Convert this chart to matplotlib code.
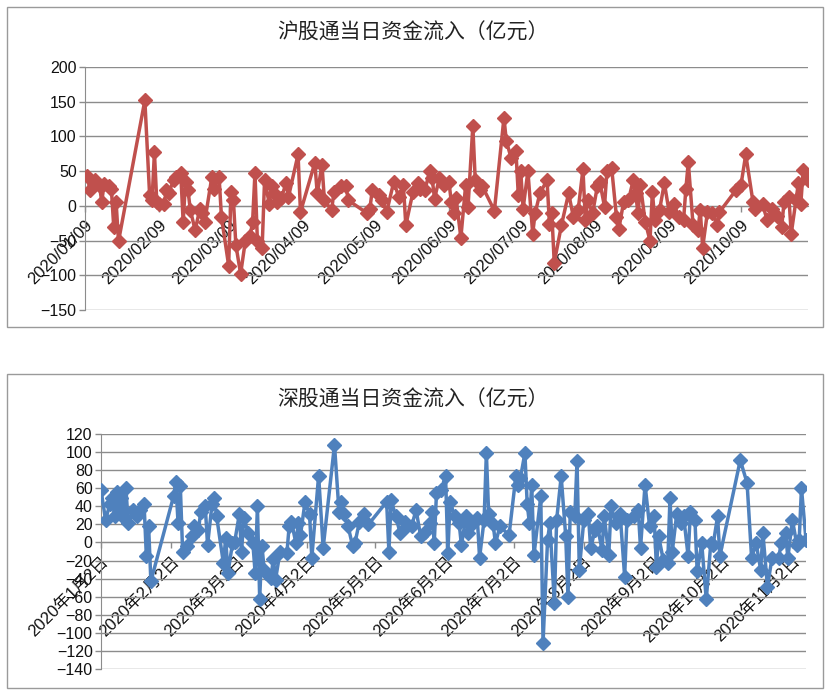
import matplotlib
matplotlib.use("Agg")
import matplotlib.pyplot as plt
from matplotlib.patches import Rectangle
import pandas as pd

# ---------------- data (day of year 2020, value in 亿元) ----------------
top_title = "沪股通当日资金流入（亿元）"
bot_title = "深股通当日资金流入（亿元）"

top_doy = [10, 11, 13, 15, 16, 17, 19, 20, 21, 22, 23, 34, 36, 37, 38, 39, 40, 42, 43, 44,
           46, 47, 49, 50, 51, 52, 53, 55, 57, 58, 59, 62, 63, 65, 66, 69, 70, 71, 72, 74,
           76, 78, 79, 80, 81, 83, 84, 86, 87, 88, 89, 91, 93, 94, 98, 99, 105, 106, 108, 109,
           112, 113, 116, 118, 119, 127, 128, 129, 132, 133, 135, 138, 140, 142, 143, 146, 148, 149, 151, 153,
           154, 155, 157, 159, 161, 162, 163, 164, 166, 168, 169, 171, 172, 174, 175, 180, 184, 185, 187, 189,
           190, 191, 192, 194, 196, 197, 199, 202, 203, 204, 205, 208, 211, 213, 215, 217, 218, 219, 221, 223,
           224, 226, 227, 229, 231, 232, 234, 236, 238, 239, 240, 241, 243, 245, 246, 247, 249, 251, 253, 255,
           257, 259, 260, 261, 263, 265, 266, 267, 269, 271, 273, 274, 281, 283, 285, 288, 289, 292, 294, 296,
           298, 300, 301, 303, 304, 306, 307, 308, 309, 311]
top_val = [43, 23, 37, 30, 6, 32, 28, 25, -30, 5, -51, 152, 15, 8, 77, 5, 2, 2, 23, 19,
           37, 42, 47, -23, 35, 23, -6, -35, -4, -11, -23, 42, 25, 42, -16, -86, 20, 8, -56, -98,
           -50, -43, -23, 48, -50, -60, 37, 3, 28, 18, 6, 11, 33, 13, 74, -9, 62, 18, 59, 8,
           -6, 20, 28, 28, 8, -11, -4, 23, 15, 9, -9, 35, 13, 30, -28, 20, 33, 25, 23, 50,
           40, 10, 40, 30, 35, 6, -11, 11, -46, 30, -1, 115, 37, 23, 28, -7, 127, 93, 69, 79,
           15, 50, -4, 50, -40, -11, 18, 37, -26, -11, -82, -28, 18, -16, -6, 53, -21, 8, -11, 28,
           35, -1, 50, 54, -16, -33, 6, 8, 37, 18, -11, 30, -23, -50, 20, -21, -6, 33, -9, 3,
           -16, -21, 25, 63, -28, -35, -6, -60, -9, -10, -27, -9, 23, 30, 74, 6, -4, 2, -21, -5,
           -14, -31, 6, 13, -40, 8, 33, 3, 52, 37]

bot_doy = [2, 4, 6, 7, 8, 9, 10, 11, 12, 13, 14, 16, 18, 19, 21, 22, 23, 24, 34, 35,
           36, 37, 38, 40, 42, 43, 45, 46, 48, 49, 51, 52, 53, 56, 57, 58, 60, 61, 63, 64,
           65, 67, 69, 70, 71, 72, 73, 74, 75, 77, 78, 79, 81, 84, 85, 86, 88, 89, 90, 92,
           94, 95, 98, 100, 105, 107, 108, 109, 111, 113, 114, 116, 118, 120, 128, 129, 130, 132, 134, 136,
           137, 139, 141, 143, 145, 147, 148, 149, 150, 152, 154, 155, 156, 158, 160, 161, 163, 164, 166, 168,
           169, 171, 172, 173, 175, 176, 178, 182, 185, 186, 187, 189, 190, 191, 192, 193, 196, 197, 199, 200,
           202, 203, 205, 207, 208, 209, 211, 212, 213, 215, 217, 218, 220, 221, 223, 224, 226, 227, 229, 231,
           233, 234, 237, 239, 240, 242, 244, 246, 247, 248, 250, 252, 253, 254, 256, 258, 259, 261, 262, 264,
           265, 267, 269, 271, 272, 274, 275, 284, 287, 289, 291, 293, 294, 296, 298, 301, 302, 304, 305, 307,
           309, 310, 311, 313]
bot_val = [58, 25, 43, 49, 29, 56, 34, 49, 27, 60, 21, 36, 29, 36, 43, -15, 18, -43, 51, 67,
           21, 62, -10, -4, 7, 18, 14, 34, 40, -3, 43, 49, 29, -23, 5, -34, -1, 1, 31, -10,
           27, 10, -1, -34, 40, -62, -4, -30, -34, -39, -18, -41, -10, -12, 18, 23, -1, 21, 8, 45,
           31, -17, 74, -6, 108, 34, 45, 31, 18, -4, -1, 23, 31, 20, 45, -10, 47, 29, 10, 23,
           18, 18, 36, 7, 12, 21, 34, -1, 55, 58, 74, -12, 45, 29, 21, -3, 29, 10, 21, 27,
           -17, 25, 99, 32, 20, -1, 18, 8, 73, 64, 71, 99, 43, 21, 64, -14, 51, -111, 3, 21,
           -67, 25, 73, 7, -60, 34, 29, 90, -30, 25, 31, -6, 14, 18, -8, 29, -14, 40, 21, 32,
           -38, 25, 29, 36, -6, 64, 18, 29, -27, 7, -19, -23, 49, -10, 32, 21, 29, -15, 34, 25,
           -32, -1, -63, -1, -3, 29, -15, 91, 66, -17, -1, -30, 10, -49, -17, -17, -1, 10, -17, 25,
           -3, 3, 60, 3]

top_tick_dates = ["2020-01-09", "2020-02-09", "2020-03-09", "2020-04-09", "2020-05-09",
                  "2020-06-09", "2020-07-09", "2020-08-09", "2020-09-09", "2020-10-09"]
top_tick_labels = ["2020/01/09", "2020/02/09", "2020/03/09", "2020/04/09", "2020/05/09",
                   "2020/06/09", "2020/07/09", "2020/08/09", "2020/09/09", "2020/10/09"]
bot_tick_dates = ["2020-01-02", "2020-02-02", "2020-03-02", "2020-04-02", "2020-05-02", "2020-06-02",
                  "2020-07-02", "2020-08-02", "2020-09-02", "2020-10-02", "2020-11-02"]
bot_tick_labels = ["2020年1月2日", "2020年2月2日", "2020年3月2日", "2020年4月2日", "2020年5月2日",
                   "2020年6月2日", "2020年7月2日", "2020年8月2日", "2020年9月2日", "2020年10月2日",
                   "2020年11月2日"]
top_yticks = [200, 150, 100, 50, 0, -50, -100, -150]
bot_yticks = [120, 100, 80, 60, 40, 20, 0, -20, -40, -60, -80, -100, -120, -140]
top_xlim = ["2020-01-09", "2020-11-06"]
bot_xlim = ["2020-01-02", "2020-11-08"]

# ---------------- styling ----------------
FONT = ["Liberation Sans", "Noto Sans CJK SC", "DejaVu Sans"]
CJK = ["Noto Sans CJK SC", "DejaVu Sans"]
GRID = "#8c8c8c"
RED = "#C0504D"
BLUE = "#4F81BD"

W, H = 830, 695
fig = plt.figure(figsize=(W / 100, H / 100), dpi=100)


def to_dates(doy):
    return pd.Timestamp("2020-01-01") + pd.to_timedelta([d - 1 for d in doy], unit="D")


def fig_rect(x0, y0, x1, y1):
    return [x0 / W, 1 - y1 / H, (x1 - x0) / W, (y1 - y0) / H]


def panel(box, axrect, title, title_y, doy, vals, color, yticks, ticks, labels, xlim):
    bx0, by0, bx1, by1 = box
    fig.patches.append(Rectangle((bx0 / W, 1 - by1 / H), (bx1 - bx0) / W, (by1 - by0) / H,
                                 transform=fig.transFigure, fill=False,
                                 edgecolor="#9a9a9a", linewidth=1.0))
    fig.text(413 / W, 1 - title_y / H, title, ha="center", va="center",
             fontsize=15, family=CJK, color="#222222")
    ax = fig.add_axes(fig_rect(*axrect))
    x = to_dates(doy)
    ax.plot(x, vals, color=color, linewidth=2.5, marker="D", markersize=7,
            markerfacecolor=color, markeredgecolor=color, zorder=3)
    ax.set_ylim(min(yticks), max(yticks))
    ax.set_yticks(yticks)
    ax.set_xlim(pd.Timestamp(xlim[0]), pd.Timestamp(xlim[1]))
    ax.set_xticks([pd.Timestamp(t) for t in ticks])
    ax.set_xticklabels(labels)
    ax.grid(axis="y", color=GRID, linewidth=1.0)
    ax.grid(axis="x", visible=False)
    ax.set_axisbelow(True)
    for s in ["top", "right"]:
        ax.spines[s].set_visible(False)
    ax.spines["left"].set_color(GRID)
    ax.spines["bottom"].set_color(GRID)
    ax.spines["bottom"].set_position(("data", 0))
    ax.tick_params(axis="y", colors=GRID, labelcolor="#111111", length=4, width=1, pad=2)
    ax.tick_params(axis="x", colors=GRID, labelcolor="#111111", length=4, width=1,
                   direction="out", pad=4)
    ax.set_facecolor("none")
    for lab in ax.get_yticklabels():
        lab.set_fontfamily(FONT)
        lab.set_fontsize(11.5)
    for lab in ax.get_xticklabels():
        lab.set_fontfamily(FONT)
        lab.set_fontsize(12)
        lab.set_rotation(45)
        lab.set_rotation_mode("anchor")
        lab.set_horizontalalignment("right")
        lab.set_verticalalignment("top")
    return ax


panel((7, 7, 823, 327), (85, 67, 808, 310), top_title, 33, top_doy, top_val, RED,
      top_yticks, top_tick_dates, top_tick_labels, top_xlim)
panel((7, 374, 823, 688), (101, 434, 806, 669), bot_title, 400, bot_doy, bot_val, BLUE,
      bot_yticks, bot_tick_dates, bot_tick_labels, bot_xlim)

fig.savefig("out.png", dpi=100, facecolor="white")
